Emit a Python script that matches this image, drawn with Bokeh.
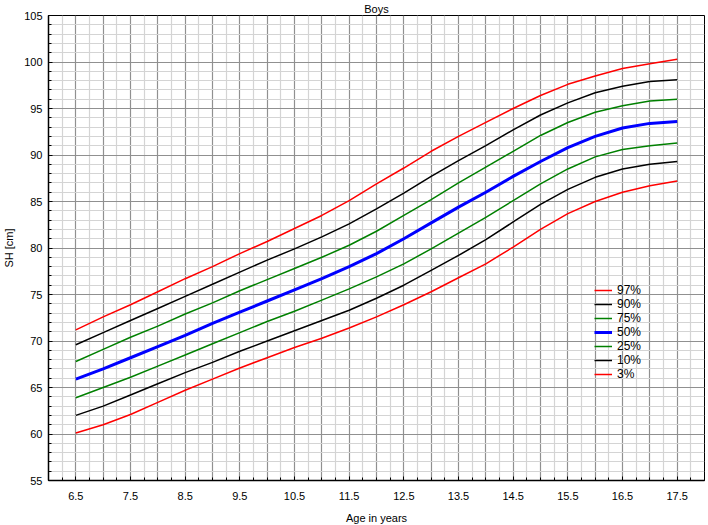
import numpy as np
from bokeh.plotting import figure
from bokeh.models import FixedTicker, SingleIntervalTicker, Legend, LegendItem
from bokeh.embed import file_html
from bokeh.resources import INLINE

# ---- data ----
ages = [6.5, 7.0, 7.5, 8.0, 8.5, 9.0, 9.5, 10.0, 10.5, 11.0, 11.5, 12.0,
        12.5, 13.0, 13.5, 14.0, 14.5, 15.0, 15.5, 16.0, 16.5, 17.0, 17.5]
p97 = [71.2, 72.6, 73.9, 75.3, 76.7, 78.0, 79.4, 80.7, 82.1, 83.5, 85.1, 86.9,
       88.6, 90.4, 92.0, 93.5, 95.0, 96.4, 97.6, 98.5, 99.3, 99.8, 100.3]
p90 = [69.6, 70.9, 72.2, 73.5, 74.8, 76.1, 77.4, 78.7, 79.9, 81.2, 82.6, 84.2,
       85.9, 87.7, 89.4, 91.0, 92.7, 94.3, 95.6, 96.7, 97.4, 97.9, 98.1]
p75 = [67.8, 69.1, 70.4, 71.6, 72.9, 74.1, 75.4, 76.6, 77.8, 79.0, 80.3, 81.8,
       83.5, 85.2, 87.0, 88.7, 90.4, 92.1, 93.5, 94.6, 95.3, 95.8, 96.0]
p50 = [65.9, 67.0, 68.2, 69.4, 70.6, 71.9, 73.1, 74.3, 75.5, 76.7, 78.0, 79.4,
       81.0, 82.7, 84.4, 86.0, 87.7, 89.3, 90.8, 92.0, 92.9, 93.4, 93.6]
p25 = [63.9, 65.0, 66.1, 67.3, 68.5, 69.7, 70.9, 72.1, 73.2, 74.4, 75.6, 76.9,
       78.3, 79.9, 81.6, 83.3, 85.1, 86.9, 88.5, 89.8, 90.6, 91.0, 91.3]
p10 = [62.0, 63.0, 64.2, 65.4, 66.6, 67.7, 68.9, 70.0, 71.1, 72.2, 73.3, 74.6,
       76.0, 77.6, 79.2, 80.9, 82.8, 84.7, 86.3, 87.6, 88.5, 89.0, 89.3]
p3 = [60.1, 61.0, 62.1, 63.4, 64.7, 65.9, 67.1, 68.2, 69.3, 70.3, 71.4, 72.6,
      73.9, 75.3, 76.8, 78.3, 80.1, 82.0, 83.7, 85.0, 86.0, 86.7, 87.2]

series_labels = ["97%", "90%", "75%", "50%", "25%", "10%", "3%"]
series_values = [p97, p90, p75, p50, p25, p10, p3]

x_tick_labels = [6.5, 7.5, 8.5, 9.5, 10.5, 11.5, 12.5, 13.5, 14.5, 15.5, 16.5, 17.5]
x_grid_major = [6.0 + 0.5 * i for i in range(25)]
x_grid_minor = [6.25 + 0.5 * i for i in range(24)]

# ---- styles ----
colors = ["#ff0000", "#000000", "#008000", "#0000ff", "#008000", "#000000", "#ff0000"]
widths = [1.5, 1.5, 1.5, 3.0, 1.5, 1.5, 1.5]
FONT = "Liberation Sans"

p = figure(frame_width=656, frame_height=465, x_range=(6.0, 18.0), y_range=(55, 105),
           output_backend="svg", toolbar_location=None, title="Boys",
           min_border_left=6, min_border_right=2, min_border_top=2, min_border_bottom=2)

p.title.align = "center"
p.title.text_font = FONT
p.title.text_font_size = "11px"
p.title.text_font_style = "normal"
p.title.text_color = "black"
p.title.standoff = 1

renderers = []
for vals, col, w in zip(series_values, colors, widths):
    r = p.line(ages, vals, line_color=col, line_width=w)
    renderers.append(r)

legend = Legend(items=[LegendItem(label=l, renderers=[r]) for l, r in zip(series_labels, renderers)],
                location=(546, 99), background_fill_alpha=0, border_line_alpha=0,
                padding=0, margin=0, spacing=0, glyph_width=18, glyph_height=14,
                label_height=14, label_standoff=5, label_text_color="black",
                label_text_font=FONT, label_text_font_size="12px")
p.add_layout(legend, "center")

# axes
p.xaxis.ticker = FixedTicker(ticks=x_tick_labels, minor_ticks=x_grid_major + x_grid_minor)
p.yaxis.ticker = SingleIntervalTicker(interval=5, num_minor_ticks=5)
for ax in (p.xaxis[0], p.yaxis[0]):
    ax.axis_line_color = "black"
    ax.axis_line_width = 1.5
    ax.major_tick_in = 4
    ax.major_tick_out = 0
    ax.minor_tick_in = 3
    ax.minor_tick_out = 0
    ax.major_tick_line_color = "black"
    ax.minor_tick_line_color = "black"
    ax.major_label_text_font = FONT
    ax.major_label_text_font_size = "11px"
    ax.major_label_text_color = "black"
    ax.axis_label_text_font = FONT
    ax.axis_label_text_font_size = "11px"
    ax.axis_label_text_font_style = "normal"
    ax.axis_label_text_color = "black"
p.xaxis.axis_label = "Age in years"
p.yaxis.axis_label = "SH [cm]"
p.xaxis.major_label_standoff = 11
p.xaxis.axis_label_standoff = 9
p.yaxis.major_label_standoff = 6
p.yaxis.axis_label_standoff = 6

# grids
p.xgrid.ticker = FixedTicker(ticks=x_grid_major, minor_ticks=x_grid_minor)
p.ygrid.ticker = SingleIntervalTicker(interval=5, num_minor_ticks=5)
for g in (p.xgrid[0], p.ygrid[0]):
    g.grid_line_color = "#909090"
    g.grid_line_width = 1.2
    g.minor_grid_line_color = "#d4d4d4"
    g.minor_grid_line_width = 1.2

p.outline_line_color = "black"
p.outline_line_width = 1
p.background_fill_color = "white"

open("out.html", "w").write(file_html(p, INLINE))
